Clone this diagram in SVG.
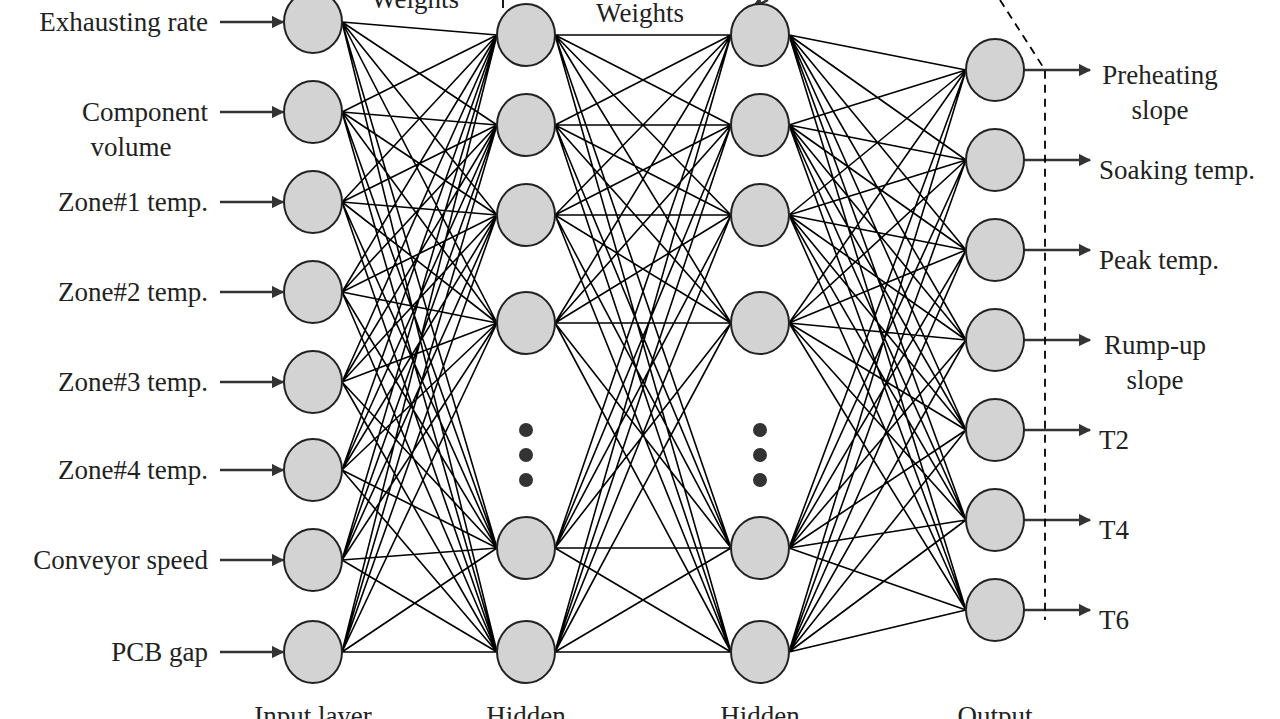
<svg xmlns="http://www.w3.org/2000/svg" width="1280" height="719" viewBox="0 0 1280 719">
<style>
.n{fill:#d3d3d3;stroke:#222;stroke-width:2}
.c{stroke:#000;stroke-width:1.6;fill:none}
.a{stroke:#333;stroke-width:2.5;fill:none;marker-end:url(#ah)}
text{font-family:"Liberation Serif",serif;font-size:27px;fill:#222}
.r{text-anchor:end}.m{text-anchor:middle}
</style>
<defs><marker id="ah" viewBox="0 0 10 10" refX="9" refY="5" markerWidth="5" markerHeight="5" orient="auto"><path d="M0,0L10,5L0,10z" fill="#333"/></marker></defs>
<rect width="1280" height="719" fill="#fff"/>
<g id="connectors">
<path class="c" d="M342 22L497 35M342 22L497 125M342 22L497 215M342 22L497 323M342 22L497 548M342 22L497 652
M342 112L497 35M342 112L497 125M342 112L497 215M342 112L497 323M342 112L497 548M342 112L497 652
M342 202L497 35M342 202L497 125M342 202L497 215M342 202L497 323M342 202L497 548M342 202L497 652
M342 292L497 35M342 292L497 125M342 292L497 215M342 292L497 323M342 292L497 548M342 292L497 652
M342 382L497 35M342 382L497 125M342 382L497 215M342 382L497 323M342 382L497 548M342 382L497 652
M342 470L497 35M342 470L497 125M342 470L497 215M342 470L497 323M342 470L497 548M342 470L497 652
M342 560L497 35M342 560L497 125M342 560L497 215M342 560L497 323M342 560L497 548M342 560L497 652
M342 652L497 35M342 652L497 125M342 652L497 215M342 652L497 323M342 652L497 548M342 652L497 652"/>
<path class="c" d="M555 35L731 35M555 35L731 125M555 35L731 215M555 35L731 323M555 35L731 548M555 35L731 652
M555 125L731 35M555 125L731 125M555 125L731 215M555 125L731 323M555 125L731 548M555 125L731 652
M555 215L731 35M555 215L731 125M555 215L731 215M555 215L731 323M555 215L731 548M555 215L731 652
M555 323L731 35M555 323L731 125M555 323L731 215M555 323L731 323M555 323L731 548M555 323L731 652
M555 548L731 35M555 548L731 125M555 548L731 215M555 548L731 323M555 548L731 548M555 548L731 652
M555 652L731 35M555 652L731 125M555 652L731 215M555 652L731 323M555 652L731 548M555 652L731 652"/>
<path class="c" d="M789 35L966 70M789 35L966 160M789 35L966 250M789 35L966 340M789 35L966 430M789 35L966 520M789 35L966 610
M789 125L966 70M789 125L966 160M789 125L966 250M789 125L966 340M789 125L966 430M789 125L966 520M789 125L966 610
M789 215L966 70M789 215L966 160M789 215L966 250M789 215L966 340M789 215L966 430M789 215L966 520M789 215L966 610
M789 323L966 70M789 323L966 160M789 323L966 250M789 323L966 340M789 323L966 430M789 323L966 520M789 323L966 610
M789 548L966 70M789 548L966 160M789 548L966 250M789 548L966 340M789 548L966 430M789 548L966 520M789 548L966 610
M789 652L966 70M789 652L966 160M789 652L966 250M789 652L966 340M789 652L966 430M789 652L966 520M789 652L966 610"/>
<path class="a" d="M220 22H283"/><path class="a" d="M220 112H283"/><path class="a" d="M220 202H283"/><path class="a" d="M220 292H283"/>
<path class="a" d="M220 382H283"/><path class="a" d="M220 470H283"/><path class="a" d="M220 560H283"/><path class="a" d="M220 652H283"/>
<path class="a" d="M1024 70H1090"/><path class="a" d="M1024 160H1090"/><path class="a" d="M1024 250H1090"/><path class="a" d="M1024 340H1090"/>
<path class="a" d="M1024 430H1090"/><path class="a" d="M1024 520H1090"/><path class="a" d="M1024 610H1090"/>
<path d="M1000 0L1045 70V620" stroke="#000" stroke-width="1.8" stroke-dasharray="8,6" fill="none"/>
<path d="M503 0V8" stroke="#000" stroke-width="1.8"/>
<path d="M768 0L752 8" class="a"/>
</g>
<g id="input">
<ellipse class="n" cx="313" cy="22" rx="29" ry="31"/><ellipse class="n" cx="313" cy="112" rx="29" ry="31"/>
<ellipse class="n" cx="313" cy="202" rx="29" ry="31"/><ellipse class="n" cx="313" cy="292" rx="29" ry="31"/>
<ellipse class="n" cx="313" cy="382" rx="29" ry="31"/><ellipse class="n" cx="313" cy="470" rx="29" ry="31"/>
<ellipse class="n" cx="313" cy="560" rx="29" ry="31"/><ellipse class="n" cx="313" cy="652" rx="29" ry="31"/>
</g>
<g id="hidden1">
<ellipse class="n" cx="526" cy="35" rx="29" ry="31"/><ellipse class="n" cx="526" cy="125" rx="29" ry="31"/>
<ellipse class="n" cx="526" cy="215" rx="29" ry="31"/><ellipse class="n" cx="526" cy="323" rx="29" ry="31"/>
<ellipse class="n" cx="526" cy="548" rx="29" ry="31"/><ellipse class="n" cx="526" cy="652" rx="29" ry="31"/>
<circle cx="526" cy="430" r="7" fill="#333"/><circle cx="526" cy="455" r="7" fill="#333"/><circle cx="526" cy="480" r="7" fill="#333"/>
</g>
<g id="hidden2">
<ellipse class="n" cx="760" cy="35" rx="29" ry="31"/><ellipse class="n" cx="760" cy="125" rx="29" ry="31"/>
<ellipse class="n" cx="760" cy="215" rx="29" ry="31"/><ellipse class="n" cx="760" cy="323" rx="29" ry="31"/>
<ellipse class="n" cx="760" cy="548" rx="29" ry="31"/><ellipse class="n" cx="760" cy="652" rx="29" ry="31"/>
<circle cx="760" cy="430" r="7" fill="#333"/><circle cx="760" cy="455" r="7" fill="#333"/><circle cx="760" cy="480" r="7" fill="#333"/>
</g>
<g id="output">
<ellipse class="n" cx="995" cy="70" rx="29" ry="31"/><ellipse class="n" cx="995" cy="160" rx="29" ry="31"/>
<ellipse class="n" cx="995" cy="250" rx="29" ry="31"/><ellipse class="n" cx="995" cy="340" rx="29" ry="31"/>
<ellipse class="n" cx="995" cy="430" rx="29" ry="31"/><ellipse class="n" cx="995" cy="520" rx="29" ry="31"/>
<ellipse class="n" cx="995" cy="610" rx="29" ry="31"/>
</g>
<g id="labels">
<text class="r" x="208" y="31">Exhausting rate</text>
<text class="r" x="208" y="121">Component</text><text class="m" x="131" y="156">volume</text>
<text class="r" x="208" y="211">Zone#1 temp.</text>
<text class="r" x="208" y="301">Zone#2 temp.</text>
<text class="r" x="208" y="391">Zone#3 temp.</text>
<text class="r" x="208" y="479">Zone#4 temp.</text>
<text class="r" x="208" y="569">Conveyor speed</text>
<text class="r" x="208" y="661">PCB gap</text>
<text class="m" x="1160" y="84">Preheating</text><text class="m" x="1160" y="119">slope</text>
<text x="1099" y="179">Soaking temp.</text>
<text x="1099" y="269">Peak temp.</text>
<text class="m" x="1155" y="354">Rump-up</text><text class="m" x="1155" y="389">slope</text>
<text x="1099" y="449">T2</text>
<text x="1099" y="539">T4</text>
<text x="1099" y="629">T6</text>
<text class="m" x="415" y="8">Weights</text>
<text class="m" x="640" y="22">Weights</text>
<text class="m" x="313" y="725">Input layer</text>
<text class="m" x="526" y="725">Hidden</text>
<text class="m" x="760" y="725">Hidden</text>
<text class="m" x="995" y="725">Output</text>
</g>
</svg>
